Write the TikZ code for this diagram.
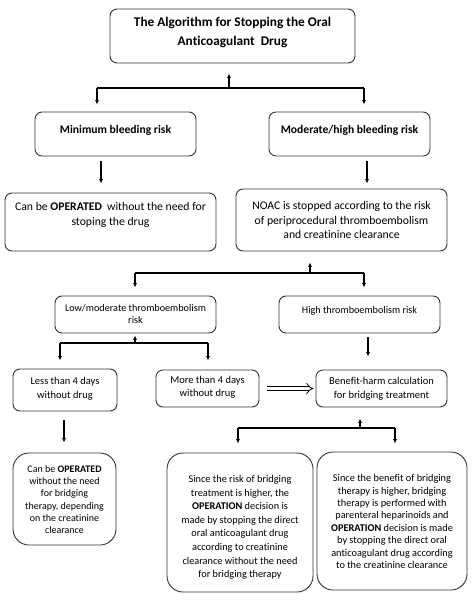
\documentclass[tikz,border=0pt]{standalone}
\usepackage{fontspec}
\setmainfont{Carlito}[Ligatures=NoCommon]
\usetikzlibrary{arrows.meta}
\begin{document}
\begin{tikzpicture}[x=1pt,y=-1pt,
  box/.style={draw=black!80, line width=0.9pt, rounded corners=7pt, inner sep=0pt},
  bigbox/.style={box, rounded corners=16pt},
  txt/.style={align=center, inner sep=0pt},
  arr/.style={line width=1.3pt, -{Latex[length=4.5pt,width=4pt]}},
  ln/.style={line width=1.3pt}]
\useasboundingbox[fill=white] (0,0) rectangle (474,604);
% boxes
\node[box, minimum width=245pt, minimum height=54pt] (title) at (232.5,36) {};
\node[txt, font=\fontsize{13.3}{19}\selectfont\bfseries] (titlet) at (232.5,32.5) {The Algorithm for Stopping the Oral\\Anticoagulant\ \ Drug};
\node[box, minimum width=161pt, minimum height=44pt] (minb) at (115.5,134) {};
\node[txt, font=\fontsize{11.6}{14}\selectfont\bfseries] (minbt) at (115.5,130) {Minimum bleeding risk};
\node[box, minimum width=161pt, minimum height=44pt] (modb) at (349.5,134) {};
\node[txt, font=\fontsize{11.6}{14}\selectfont\bfseries] (modbt) at (349.5,130) {Moderate/high bleeding risk};
\node[box, minimum width=211pt, minimum height=58pt] (op1) at (110.5,222) {};
\node[txt, font=\fontsize{11.7}{15}\selectfont] (op1t) at (110.5,215) {Can be \textbf{OPERATED}\ \ without the need for\\stoping the drug};
\node[box, minimum width=211pt, minimum height=62pt] (noac) at (341.5,220) {};
\node[txt, font=\fontsize{11.7}{14.5}\selectfont] (noact) at (341.5,220) {NOAC is stopped according to the risk\\of periprocedural thromboembolism\\and creatinine clearance};
\node[box, minimum width=161pt, minimum height=37pt] (low) at (135.5,314.5) {};
\node[txt, font=\fontsize{10.2}{12}\selectfont] (lowt) at (135.5,314) {Low/moderate thromboembolism\\risk};
\node[box, minimum width=161pt, minimum height=37pt] (high) at (359.5,314.5) {};
\node[txt, font=\fontsize{10.2}{12}\selectfont] (hight) at (359.5,310.5) {High thromboembolism risk};
\node[box, minimum width=104pt, minimum height=42pt] (less) at (65,390) {};
\node[txt, font=\fontsize{10.5}{14}\selectfont] (lesst) at (65,389) {Less than 4 days\\without drug};
\node[box, minimum width=103pt, minimum height=37pt] (more) at (207.5,388.5) {};
\node[txt, font=\fontsize{10.5}{12.5}\selectfont] (moret) at (207.5,387.5) {More than 4 days\\without drug};
\node[box, minimum width=131pt, minimum height=37pt] (bene) at (381.5,388.5) {};
\node[txt, font=\fontsize{10.5}{14}\selectfont] (benet) at (381.5,389) {Benefit-harm calculation\\for bridging treatment};
\node[bigbox, minimum width=103pt, minimum height=92pt] (op2) at (64.5,499) {};
\node[txt, font=\fontsize{10}{12.2}\selectfont] (op2t) at (64.5,499.5) {Can be \textbf{OPERATED}\\without the need\\for bridging\\therapy, depending\\on the creatinine\\clearance};
\node[bigbox, minimum width=146pt, minimum height=139pt] (mid) at (240,522.5) {};
\node[txt, font=\fontsize{10.3}{13.6}\selectfont] (midt) at (240,527.5) {Since the risk of bridging\\treatment is higher, the\\\textbf{OPERATION} decision is\\made by stopping the direct\\oral anticoagulant drug\\according to creatinine\\clearance without the need\\for bridging therapy};
\node[bigbox, minimum width=150pt, minimum height=138pt] (right) at (392,521) {};
\node[txt, font=\fontsize{10.3}{12.4}\selectfont] (rightt) at (392,521.5) {Since the benefit of bridging\\therapy is higher, bridging\\therapy is performed with\\parenteral heparinoids and\\\textbf{OPERATION} decision is made\\by stopping the direct oral\\anticoagulant drug according\\to the creatinine clearance};
% junctions
\coordinate (j1) at (229,88);
\coordinate (j1l) at (97,88);
\coordinate (j1r) at (364,88);
\coordinate (j2) at (310,273);
\coordinate (j2l) at (135,273);
\coordinate (j2r) at (364,273);
\coordinate (j3) at (135,343);
\coordinate (j3l) at (60,343);
\coordinate (j3r) at (208,343);
\coordinate (j4) at (360,428);
\coordinate (j4l) at (238,428);
\coordinate (j4r) at (395,428);
% connectors
\draw[arr, shorten >=10pt] (j1) -- (j1 |- title.south);
\draw[ln] (j1l) -- (j1r);
\draw[arr, shorten >=7pt] (j1l) -- (j1l |- minb.north);
\draw[arr, shorten >=7pt] (j1r) -- (j1r |- modb.north);
\draw[arr, shorten <=5pt, shorten >=9pt] ([xshift=-14.5pt]minb.south) -- ([xshift=-14.5pt]minb.south |- op1.north);
\draw[arr, shorten <=5pt, shorten >=5pt] ([xshift=17.5pt]modb.south) -- ([xshift=17.5pt]modb.south |- noac.north);
\draw[arr, shorten >=11pt] (j2) -- (j2 |- noac.south);
\draw[ln] (j2l) -- (j2r);
\draw[arr, shorten >=8pt] (j2l) -- (j2l |- low.north);
\draw[arr, shorten >=8pt] (j2r) -- (j2r |- high.north);
\draw[arr, shorten <=4pt, shorten >=13pt] ([xshift=8.5pt]high.south) -- ([xshift=8.5pt]high.south |- bene.north);
\draw[arr, shorten >=2pt] (j3) -- (j3 |- low.south);
\draw[ln] (j3l) -- (j3r);
\draw[arr, shorten >=8pt] (j3l) -- (j3l |- less.north);
\draw[arr, shorten >=9pt] (j3r) -- (j3r |- more.north);
\draw[arr, shorten <=9pt, shorten >=10pt] ([xshift=-1pt]less.south) -- ([xshift=-1pt]less.south |- op2.north);
\draw[line width=0.8pt, double, double distance=3pt, -{Implies}, shorten <=8pt, shorten >=2pt] (more.east) -- (bene.west |- more.east);
\draw[arr, shorten >=11pt] (j4) -- (j4 |- bene.south);
\draw[ln] (j4l) -- (j4r);
\draw[arr, shorten >=9pt] (j4l) -- (j4l |- mid.north);
\draw[arr, shorten >=8pt] (j4r) -- (j4r |- right.north);
\end{tikzpicture}
\end{document}
